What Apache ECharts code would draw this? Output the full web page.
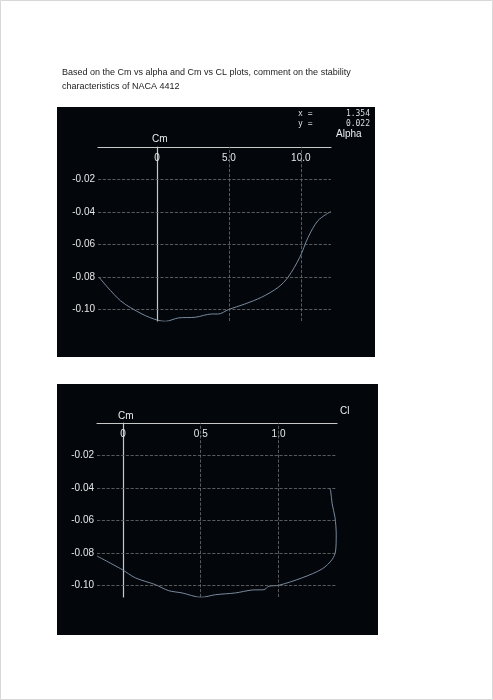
<!DOCTYPE html>
<html lang="en">
<head>
<meta charset="UTF-8">
<title>NACA 4412</title>
<style>
  html, body { margin: 0; padding: 0; background: #fff; }
  #chart { width: 493px; height: 700px; }
</style>
</head>
<body>
<div id="chart"></div>
<script src="https://cdn.jsdelivr.net/npm/echarts@6/dist/echarts.min.js"></script>
<script>
// Cm vs alpha
var alpha = [-4.04, -2.54, -1.04, 0, 0.58, 1.5, 2.66, 3.81, 4.27, 4.97, 6.12, 7.27, 8.43, 9.12, 9.93, 10.51, 11.2, 12.08];
var cmAlpha = [-0.080, -0.0945, -0.1027, -0.1064, -0.1072, -0.1051, -0.1047, -0.1027, -0.1027, -0.100, -0.0965, -0.0924, -0.0863, -0.080, -0.0678, -0.0555, -0.0452, -0.0397];
// Cm vs CL
var cl = [-0.167, -0.006, 0.079, 0.208, 0.294, 0.38, 0.502, 0.594, 0.723, 0.83, 0.906, 0.938, 1.002, 1.152, 1.281, 1.345, 1.367, 1.371, 1.363, 1.345, 1.335, 1.328];
var cmCl = [-0.0818, -0.0901, -0.0952, -0.0994, -0.1031, -0.1045, -0.1072, -0.1056, -0.1045, -0.1027, -0.1025, -0.1004, -0.0998, -0.0952, -0.0897, -0.0839, -0.0787, -0.0684, -0.058, -0.0498, -0.0416, -0.040];

// tick values
var cmTicks = [-0.02, -0.04, -0.06, -0.08, -0.10];
var alphaTicks = [0, 5, 10];
var clTicks = [0, 0.5, 1.0];

function pairs(xs, ys) {
  return xs.map(function (x, i) { return [x, ys[i]]; });
}

var font = 'Liberation Sans';
var axisCol = '#c8c8c8';
var dash = { color: '#6e6e6e', type: 'dashed', width: 0.8 };

function xAxis(idx, min, max, ticks) {
  return {
    type: 'value', gridIndex: idx, position: 'top', min: min, max: max,
    axisLine: { onZero: false, lineStyle: { color: axisCol, width: 1.2 } },
    axisTick: { show: false },
    splitLine: { show: false },
    axisLabel: {
      inside: true, color: '#e6e6e6', fontFamily: font, fontSize: 10, margin: 6,
      customValues: ticks,
      formatter: function (v) { return v === 0 ? '0' : v.toFixed(1); }
    }
  };
}

function yAxis(idx) {
  return {
    type: 'value', gridIndex: idx, min: -0.107, max: 0,
    axisLine: { onZero: true, lineStyle: { color: axisCol, width: 1.2 } },
    axisTick: { show: false },
    splitLine: { show: false },
    axisLabel: {
      color: '#e6e6e6', fontFamily: font, fontSize: 10, margin: 3,
      customValues: cmTicks,
      formatter: function (v) { return v.toFixed(2); }
    }
  };
}

function gridLines(xTicks) {
  var d = cmTicks.map(function (v) { return { yAxis: v }; });
  xTicks.forEach(function (v) { if (v !== 0) d.push({ xAxis: v }); });
  return { silent: true, symbol: 'none', label: { show: false }, lineStyle: dash, data: d };
}

var chart = echarts.init(document.getElementById('chart'));
chart.setOption({
  backgroundColor: '#fff',
  animation: false,
  graphic: [
    { type: 'rect', shape: { x: 0.5, y: 0.5, width: 492, height: 699 }, style: { fill: 'none', stroke: '#d8d8d8' } },
    { type: 'text', left: 62, top: 66, style: { text: 'Based on the Cm vs alpha and Cm vs CL plots, comment on the stability\ncharacteristics of NACA 4412', font: '9px Liberation Sans', fill: '#222', lineHeight: 14 } },
    { type: 'rect', z: -1, shape: { x: 57, y: 107, width: 318, height: 250 }, style: { fill: '#03070c' } },
    { type: 'rect', z: -1, shape: { x: 57, y: 384, width: 321, height: 251 }, style: { fill: '#03070c' } },
    { type: 'text', left: 298, top: 109, style: { text: 'x =\ny =', font: '8px DejaVu Sans Mono', fill: '#ddd', lineHeight: 10 } },
    { type: 'text', right: 123, top: 109, style: { text: '1.354\n0.022', font: '8px DejaVu Sans Mono', fill: '#ddd', lineHeight: 10, align: 'right' } },
    { type: 'text', left: 336, top: 129, style: { text: 'Alpha', font: '10px Liberation Sans', fill: '#eee' } },
    { type: 'text', left: 152, top: 134, style: { text: 'Cm', font: '10px Liberation Sans', fill: '#eee' } },
    { type: 'text', left: 118, top: 411, style: { text: 'Cm', font: '10px Liberation Sans', fill: '#eee' } },
    { type: 'text', left: 340, top: 406, style: { text: 'Cl', font: '10px Liberation Sans', fill: '#eee' } }
  ],
  grid: [
    { left: 98, top: 147, width: 233, height: 174 },
    { left: 97, top: 423, width: 240, height: 174 }
  ],
  xAxis: [xAxis(0, -4.1, 12.1, alphaTicks), xAxis(1, -0.167, 1.376, clTicks)],
  yAxis: [yAxis(0), yAxis(1)],
  series: [
    { type: 'line', xAxisIndex: 0, yAxisIndex: 0, data: pairs(alpha, cmAlpha), smooth: 0.3, showSymbol: false, lineStyle: { color: '#8797ab', width: 0.9 }, markLine: gridLines(alphaTicks) },
    { type: 'line', xAxisIndex: 1, yAxisIndex: 1, data: pairs(cl, cmCl), smooth: 0.3, showSymbol: false, lineStyle: { color: '#8797ab', width: 0.9 }, markLine: gridLines(clTicks) }
  ]
});
</script>
</body>
</html>
